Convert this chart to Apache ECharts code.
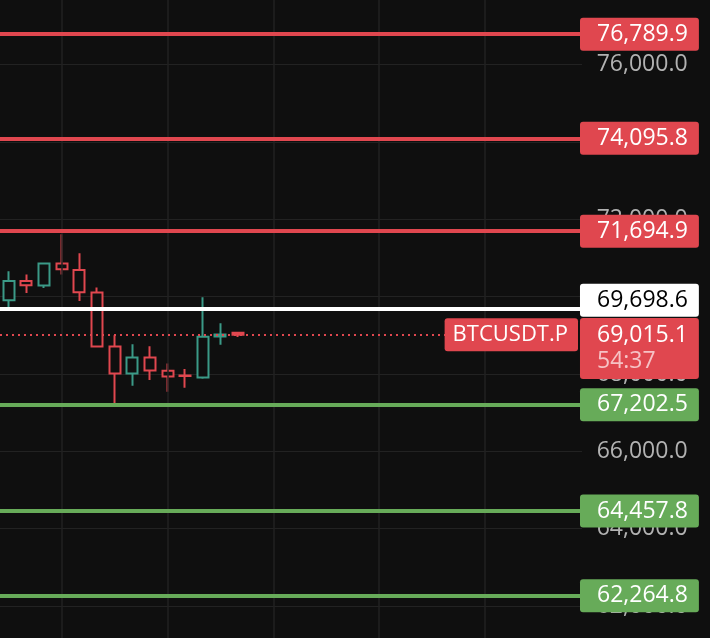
<!DOCTYPE html>
<html>
<head>
<meta charset="utf-8">
<script src="https://cdn.jsdelivr.net/npm/echarts@6/dist/echarts.min.js"></script>
<style>
html,body{margin:0;padding:0;background:#0f0f0f;}
#c{width:710px;height:638px;}
</style>
</head>
<body>
<div id="c"></div>
<script>
// ---- data ----
const times = [
  '10 21:00','10 22:00','10 23:00','11 00:00','11 01:00','11 02:00','11 03:00','11 04:00',
  '11 05:00','11 06:00','11 07:00','11 08:00','11 09:00','11 10:00','11 11:00','11 12:00',
  '11 13:00','11 14:00','11 15:00','11 16:00','11 17:00','11 18:00','11 19:00','11 20:00',
  '11 21:00','11 22:00','11 23:00','12 00:00','12 01:00','12 02:00','12 03:00','12 04:00',
  '12 05:00'
];
const opens  = [69910, 70408, 70289, 70858, 70692, 70108, 68713, 68015, 68429, 68083, 67964, 67912, 68972, 69070];
const closes = [70408, 70297, 70858, 70711, 70116, 68713, 68015, 68429, 68093, 67938, 67946, 68961, 69023, 69015.1];
const lows   = [69695, 70098, 70227, 70574, 69891, 68713, 67230, 67695, 67842, 67540, 67643, 67876, 68755, 68960];
const highs  = [70659, 70574, 70884, 71615, 71124, 70238, 69005, 68772, 68721, 68274, 68127, 69987, 69315, 69075];
const gridTimes = ['11 00:00', '11 06:00', '11 12:00', '11 18:00', '12 00:00'];
const resistance = [76789.9, 74095.8, 71694.9];
const support = [67202.5, 64457.8, 62264.8];
const markPrice = 69698.6;
const lastPrice = 69015.1;
const countdown = '54:37';
const symbolName = 'BTCUSDT.P';
const yMin = 60000, yMax = 78000, yStep = 2000;

// ---- styles ----
const BG = '#0f0f0f';
const RED = '#e0474f';
const GREEN = '#67ab59';
const UP = '#3b9a87';
const DOWN = '#e0474f';
const FONT = '"Open Sans", "Noto Sans", sans-serif';
const FS = 23;

const fmt = v => Number(v).toLocaleString('en-US', {minimumFractionDigits: 1, maximumFractionDigits: 1});

const candleData = opens.map((o, i) => [o, closes[i], lows[i], highs[i]]);

function levelBox(bg) {
  return {
    show: true, position: 'end', distance: -2,
    formatter: p => fmt(p.value),
    color: '#ffffff', backgroundColor: bg,
    fontFamily: FONT, fontSize: FS, lineHeight: 23,
    padding: [5, 11, 5, 17], borderRadius: 3
  };
}

const levelLines = [];
resistance.forEach(v => levelLines.push({
  yAxis: v, lineStyle: {color: RED, width: 4, type: 'solid'}, label: levelBox(RED)
}));
support.forEach(v => levelLines.push({
  yAxis: v, lineStyle: {color: GREEN, width: 4, type: 'solid'}, label: levelBox(GREEN)
}));
levelLines.push({
  yAxis: markPrice, lineStyle: {color: '#ffffff', width: 4, type: 'solid'}, label: {show: false}
});
levelLines.push({
  yAxis: lastPrice, lineStyle: {color: RED, width: 2, type: [2, 4]},
  label: {
    show: true, position: 'insideEnd', distance: 4, formatter: symbolName,
    color: '#ffffff', backgroundColor: RED, fontFamily: FONT, fontSize: 22, lineHeight: 23,
    padding: [5, 10, 5, 8], borderRadius: 3
  }
});

const lastCat = times[times.length - 1];

const option = {
  animation: false,
  backgroundColor: BG,
  grid: {left: 0, right: 128, top: -12.6, bottom: -45.3, containLabel: false, outerBoundsMode: 'none'},
  xAxis: {
    type: 'category', data: times, boundaryGap: true,
    axisLine: {show: false}, axisTick: {show: false}, axisLabel: {show: false}, splitLine: {show: false}
  },
  yAxis: {
    type: 'value', position: 'right', min: yMin, max: yMax, interval: yStep, scale: true,
    axisLine: {show: false}, axisTick: {show: false},
    axisLabel: {color: '#b2b2b2', fontFamily: FONT, fontSize: FS, margin: 14.7, formatter: v => fmt(v)},
    splitLine: {lineStyle: {color: '#222222', width: 1}}
  },
  series: [
    {
      type: 'line', data: [], z: 1, silent: true,
      markLine: {
        silent: true, symbol: ['none', 'none'], animation: false,
        lineStyle: {color: '#222222', width: 1.5, type: 'solid'},
        label: {show: false},
        emphasis: {disabled: true},
        data: gridTimes.map(t => ({xAxis: t}))
      }
    },
    {
      type: 'candlestick', z: 2, clip: false, barWidth: 11.5,
      data: candleData,
      itemStyle: {color: BG, color0: BG, borderColor: UP, borderColor0: DOWN, borderWidth: 2},
      emphasis: {disabled: true},
      markLine: {
        silent: true, symbol: ['none', 'none'], animation: false,
        emphasis: {disabled: true},
        data: levelLines
      },
      markPoint: {
        silent: true, animation: false, symbol: 'rect', symbolSize: 1,
        itemStyle: {color: 'rgba(0,0,0,0)'},
        emphasis: {disabled: true},
        data: [
          {
            coord: [lastCat, markPrice],
            label: {
              show: true, position: 'inside', align: 'left', verticalAlign: 'middle', offset: [6.8, -8],
              formatter: fmt(markPrice), color: '#000000', backgroundColor: '#ffffff',
              fontFamily: FONT, fontSize: FS, lineHeight: 23, padding: [5, 11, 5, 17], borderRadius: 3
            }
          },
          {
            coord: [lastCat, lastPrice],
            label: {
              show: true, position: 'inside', align: 'left', verticalAlign: 'middle', offset: [6.8, 13.7],
              formatter: '{p|' + fmt(lastPrice) + '}\n{t|' + countdown + '}',
              backgroundColor: RED, padding: [4, 11, 4, 17], borderRadius: 3,
              rich: {
                p: {color: '#ffffff', fontFamily: FONT, fontSize: FS, lineHeight: 26.5},
                t: {color: '#f6c2c5', fontFamily: FONT, fontSize: FS, lineHeight: 26.5}
              }
            }
          }
        ]
      }
    }
  ]
};

const chart = echarts.init(document.getElementById('c'));
chart.setOption(option);
</script>
</body>
</html>
